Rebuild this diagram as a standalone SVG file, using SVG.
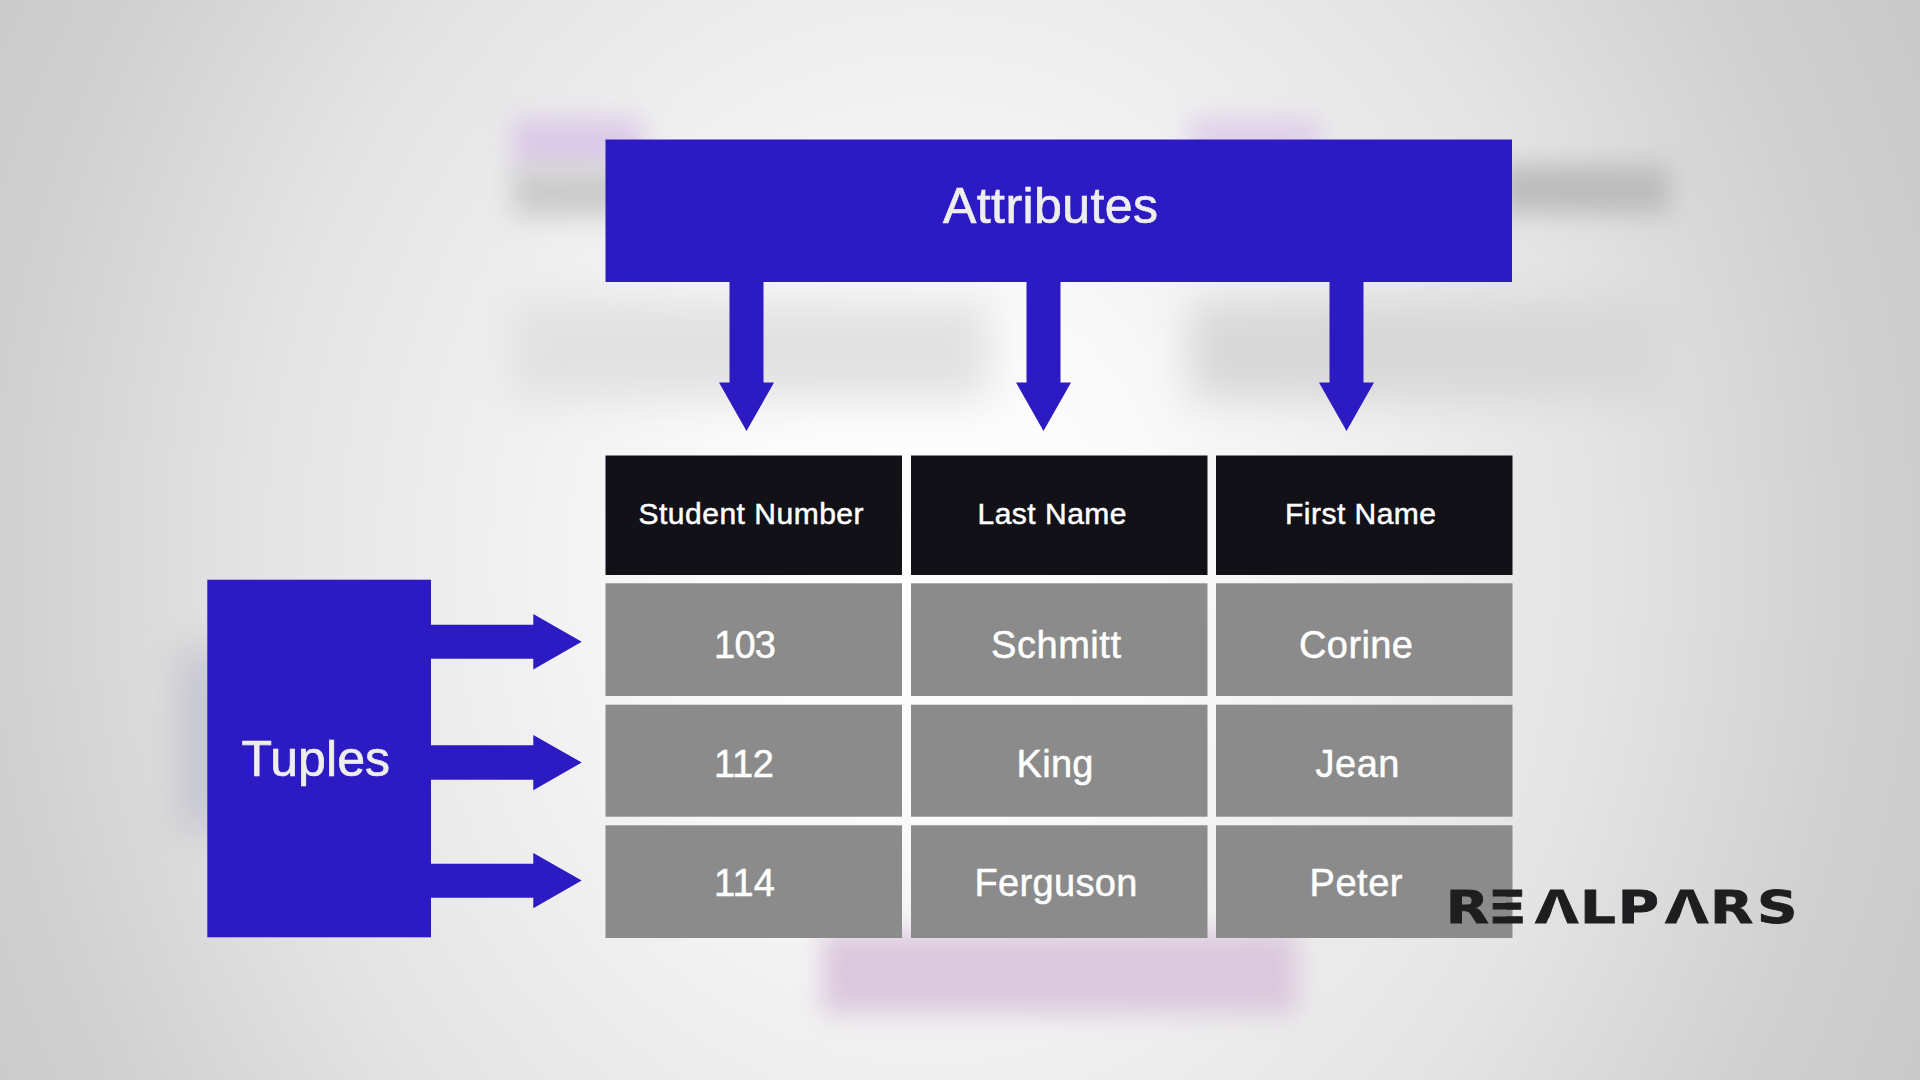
<svg xmlns="http://www.w3.org/2000/svg" width="1920" height="1080" viewBox="0 0 1920 1080">
<defs>
<radialGradient id="bg" gradientUnits="userSpaceOnUse" cx="930" cy="560" r="1120" gradientTransform="translate(930 560) scale(1 1.15) translate(-930 -560)">
<stop offset="0" stop-color="#ffffff"/><stop offset="0.2" stop-color="#fafafa"/><stop offset="0.33" stop-color="#f3f3f3"/><stop offset="0.6" stop-color="#e4e4e4"/><stop offset="0.83" stop-color="#d0d0d0"/><stop offset="1" stop-color="#c8c8c8"/>
</radialGradient>
<filter id="blur" filterUnits="userSpaceOnUse" x="0" y="0" width="1920" height="1080"><feGaussianBlur stdDeviation="13"/></filter>
<filter id="blur2" filterUnits="userSpaceOnUse" x="0" y="0" width="1920" height="1080"><feGaussianBlur stdDeviation="20"/></filter>
<mask id="logomask" maskUnits="userSpaceOnUse" x="1440" y="880" width="370" height="55">
<rect x="1440" y="880" width="370" height="55" fill="#fff"/>
<rect x="1490" y="896.5" width="16" height="6.5" fill="#000"/>
<rect x="1490" y="909.5" width="16" height="7" fill="#000"/>
<polygon points="1557,896 1547,924 1567,924" fill="#000"/>
<polygon points="1687,896 1677,924 1697,924" fill="#000"/>
</mask>
</defs>
<style>
.blue{fill:#2c1ac2}
.head{fill:#131118}
.cell{fill:#8b8b8b}
text{font-family:"Liberation Sans",Arial,sans-serif}
.big{font-size:50px;fill:#eeeeee;stroke:#eeeeee;stroke-width:.7}
.th{font-size:30px;fill:#fff;stroke:#fff;stroke-width:.5}
.td{font-size:38px;fill:#fff;stroke:#fff;stroke-width:.5}
.logo{font-family:"DejaVu Sans",sans-serif;font-weight:700;font-size:45px;fill:#1e1e20;stroke:#1e1e20;stroke-width:.8}
</style>
<rect width="1920" height="1080" fill="url(#bg)"/>
<g id="blurred-backdrop">
<rect x="512" y="118" width="130" height="50" fill="#dcc9e8" filter="url(#blur)"/>
<rect x="512" y="168" width="135" height="48" fill="#cbcbcb" filter="url(#blur)"/>
<rect x="1190" y="118" width="130" height="40" fill="#dfcfea" filter="url(#blur)"/>
<rect x="1500" y="165" width="170" height="48" fill="#bbbbbb" filter="url(#blur)"/>
<rect x="510" y="300" width="480" height="100" fill="#e2e2e2" filter="url(#blur2)"/>
<rect x="1190" y="300" width="480" height="100" fill="#d8d8d8" filter="url(#blur2)"/>
<rect x="185" y="650" width="35" height="180" fill="#bcbcca" filter="url(#blur2)"/>
<rect x="822" y="932" width="476" height="82" fill="#dcc8de" filter="url(#blur)"/>
</g>
<g id="connectors">
<polygon class="blue" points="729.5,281 763.5,281 763.5,382.5 774,382.5 746.5,431 719,382.5 729.5,382.5"/>
<polygon class="blue" points="1026.5,281 1060.5,281 1060.5,382.5 1071,382.5 1043.5,431 1016,382.5 1026.5,382.5"/>
<polygon class="blue" points="1329.5,281 1363.5,281 1363.5,382.5 1374,382.5 1346.5,431 1319,382.5 1329.5,382.5"/>
<polygon class="blue" points="430,624.7 533.3,624.7 533.3,614 581.7,641.7 533.3,669.4 533.3,658.7 430,658.7"/>
<polygon class="blue" points="430,745.3 533.3,745.3 533.3,735 581.7,762.5 533.3,790.3 533.3,779.7 430,779.7"/>
<polygon class="blue" points="430,863.7 533.3,863.7 533.3,853 581.7,880.5 533.3,908.3 533.3,897.7 430,897.7"/>
</g>
<g id="attributes"><rect class="blue" x="605.5" y="139.5" width="906.5" height="142.5"/><text class="big" x="943" y="223" textLength="215">Attributes</text></g>
<g id="tuples"><rect class="blue" x="207.3" y="579.7" width="223.7" height="357.6"/><text class="big" x="241.5" y="776" textLength="148.5">Tuples</text></g>
<g id="table">
<g id="th-student"><rect class="head" x="605.5" y="455.5" width="296.5" height="119.5"/><text class="th" x="638.5" y="524" textLength="225">Student Number</text></g>
<g id="th-last"><rect class="head" x="911" y="455.5" width="296.5" height="119.5"/><text class="th" x="977.5" y="524" textLength="149">Last Name</text></g>
<g id="th-first"><rect class="head" x="1216" y="455.5" width="296.5" height="119.5"/><text class="th" x="1285" y="524" textLength="151">First Name</text></g>
<g id="c103"><rect class="cell" x="605.5" y="583.3" width="296.5" height="112.7"/><text class="td" x="714" y="657.7" textLength="62">103</text></g>
<g id="cSchmitt"><rect class="cell" x="911" y="583.3" width="296.5" height="112.7"/><text class="td" x="991" y="657.7" textLength="130">Schmitt</text></g>
<g id="cCorine"><rect class="cell" x="1216" y="583.3" width="296.5" height="112.7"/><text class="td" x="1299" y="657.7" textLength="114">Corine</text></g>
<g id="c112"><rect class="cell" x="605.5" y="704.7" width="296.5" height="112"/><text class="td" x="714" y="777.3" textLength="60">112</text></g>
<g id="cKing"><rect class="cell" x="911" y="704.7" width="296.5" height="112"/><text class="td" x="1016.5" y="777.3" textLength="77">King</text></g>
<g id="cJean"><rect class="cell" x="1216" y="704.7" width="296.5" height="112"/><text class="td" x="1315.5" y="777.3" textLength="84">Jean</text></g>
<g id="c114"><rect class="cell" x="605.5" y="825.3" width="296.5" height="112.7"/><text class="td" x="714" y="896" textLength="61">114</text></g>
<g id="cFerguson"><rect class="cell" x="911" y="825.3" width="296.5" height="112.7"/><text class="td" x="974.5" y="896" textLength="163">Ferguson</text></g>
<g id="cPeter"><rect class="cell" x="1216" y="825.3" width="296.5" height="112.7"/><text class="td" x="1309.5" y="896" textLength="93">Peter</text></g>
</g>
<g id="logo" mask="url(#logomask)"><text class="logo" transform="scale(1.25 1)" x="1156.6 1190.4 1228 1264 1294.2 1332 1368 1405.6" y="922.7">REALPARS</text></g>
</svg>
